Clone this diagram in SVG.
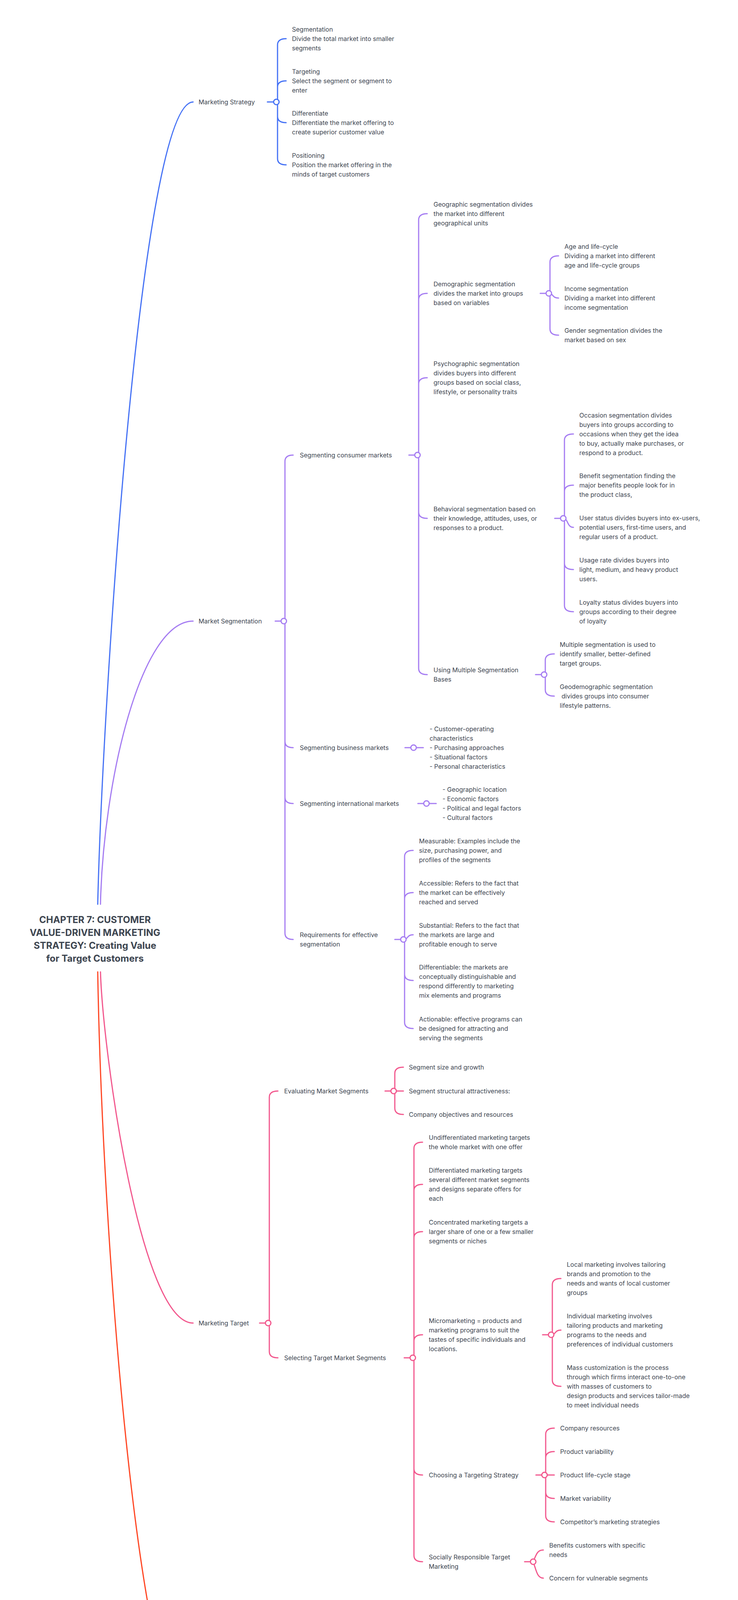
<svg xmlns="http://www.w3.org/2000/svg" width="1888" height="4803" viewBox="0 0 1888 4803">
<style>
text{font-family:Inter,"Liberation Sans",sans-serif;font-size:16px;fill:#3d4550}
.t{font-size:24px;font-weight:700;text-anchor:middle}
path{fill:none;stroke-width:3;stroke-linecap:round}
circle{fill:#fff;stroke-width:3}
.b{stroke:#4471f5}.p{stroke:#a57cf2}.k{stroke:#f2578d}.r{stroke:#ff4421}
</style>
<rect width="1888" height="4803" fill="#fff"/>
<g id="connectors">
<path class="b" d="M250,2315 C262,1800 360,261 494,261"/>
<path class="p" d="M257,2315 C264,2000 360,1590 494,1590"/>
<path class="k" d="M257,2488 C264,2700 360,3387 494,3387"/>
<path class="r" d="M250,2488 C262,3200 360,4422 494,4422"/>
<!-- Marketing Strategy -->
<path class="b" d="M684,261 H700 M710,261 L710,115 Q710,99 732,99 M710,261 L710,223 Q710,207 732,207 M710,261 L710,298 Q710,314 732,314 M710,261 L710,406 Q710,422 732,422"/>
<!-- Market Segmentation -->
<path class="p" d="M704,1590 H719 M729,1590 L729,1181 Q729,1165 750,1165 M729,1590 L729,1898 Q729,1914 750,1914 M729,1590 L729,2041 Q729,2057 750,2057 M729,1590 L729,2389 Q729,2405 750,2405"/>
<path class="p" d="M1046,1165 H1061 M1071,1165 L1071,563 Q1071,547 1093,547 M1071,1165 L1071,767 Q1071,751 1093,751 M1071,1165 L1071,983 Q1071,967 1093,967 M1071,1165 L1071,1311 Q1071,1327 1093,1327 M1071,1165 L1071,1711 Q1071,1727 1093,1727"/>
<path class="p" d="M1382,751 H1397 M1407,751 L1407,671 Q1407,655 1429,655 M1404,751 C1416,751 1412,763 1429,763 M1407,751 L1407,842 Q1407,858 1429,858"/>
<path class="p" d="M1419,1327 H1434 M1444,1327 L1444,1127 Q1444,1111 1467,1111 M1444,1327 L1444,1258 Q1444,1242 1467,1242 M1441,1327 C1454,1327 1450,1350 1467,1350 M1444,1327 L1444,1442 Q1444,1458 1467,1458 M1444,1327 L1444,1550 Q1444,1566 1467,1566"/>
<path class="p" d="M1370,1727 H1385 M1395,1727 L1395,1690 Q1395,1674 1418,1674 M1395,1727 L1395,1766 Q1395,1782 1418,1782"/>
<path class="p" d="M1036,1914 H1051 M1065,1914 H1083"/>
<path class="p" d="M1069,2057 H1084 M1098,2057 H1116"/>
<path class="p" d="M1010,2405 H1025 M1035,2405 L1035,2193 Q1035,2177 1057,2177 M1035,2405 L1035,2301 Q1035,2285 1057,2285 M1032,2405 C1045,2405 1040,2393 1057,2393 M1035,2405 L1035,2494 Q1035,2510 1057,2510 M1035,2405 L1035,2617 Q1035,2633 1057,2633"/>
<!-- Marketing Target -->
<path class="k" d="M664,3387 H679 M689,3387 L689,2809 Q689,2793 711,2793 M689,3387 L689,3460 Q689,3476 711,3476"/>
<path class="k" d="M985,2793 H1000 M1014,2793 H1032 M1010,2793 L1010,2748 Q1010,2732 1032,2732 M1010,2793 L1010,2837 Q1010,2853 1032,2853"/>
<path class="k" d="M1034,3476 H1049 M1059,3476 L1059,2940 Q1059,2924 1081,2924 M1059,3476 L1059,3048 Q1059,3032 1081,3032 M1059,3476 L1059,3169 Q1059,3153 1081,3153 M1059,3476 L1059,3433 Q1059,3417 1081,3417 M1059,3476 L1059,3760 Q1059,3776 1081,3776 M1059,3476 L1059,3982 Q1059,3998 1081,3998"/>
<path class="k" d="M1388,3417 H1403 M1413,3417 L1413,3289 Q1413,3273 1435,3273 M1410,3417 C1423,3417 1418,3405 1435,3405 M1413,3417 L1413,3533 Q1413,3549 1435,3549"/>
<path class="k" d="M1371,3776 H1386 M1400,3776 H1418 M1396,3776 L1396,3672 Q1396,3656 1418,3656 M1396,3776 L1396,3732 Q1396,3716 1418,3716 M1396,3776 L1396,3820 Q1396,3836 1418,3836 M1396,3776 L1396,3880 Q1396,3896 1418,3896"/>
<path class="k" d="M1342,3998 H1357 M1364,3998 C1372,3980 1374,3968 1390,3968 M1364,3998 C1372,4020 1374,4040 1390,4040"/>
<!-- Differentiation and Positioning -->
<path class="r" d="M781,4422 H796 M806,4422 L806,4156 Q806,4140 828,4140 M806,4422 L806,4276 Q806,4260 828,4260 M806,4422 L806,4525 Q806,4541 828,4541"/>
<path class="r" d="M1117,4541 H1132 M1142,4541 L1142,4408 Q1142,4392 1165,4392 M1142,4541 L1142,4515 Q1142,4499 1165,4499 M1142,4541 L1142,4580 Q1142,4596 1165,4596 M1142,4541 L1142,4688 Q1142,4704 1165,4704"/>
<path class="r" d="M1483,4392 H1498 M1512,4392 H1530"/>
<path class="r" d="M1442,4596 H1457 M1471,4596 H1489"/>
<path class="r" d="M1403,4704 H1418 M1432,4704 H1450"/>
</g>
<g id="circles">
<circle class="b" cx="707" cy="261" r="7"/>
<circle class="p" cx="726" cy="1590" r="7"/>
<circle class="p" cx="1068" cy="1165" r="7"/>
<circle class="p" cx="1404" cy="751" r="7"/>
<circle class="p" cx="1441" cy="1327" r="7"/>
<circle class="p" cx="1392" cy="1727" r="7"/>
<circle class="p" cx="1058" cy="1914" r="7"/>
<circle class="p" cx="1091" cy="2057" r="7"/>
<circle class="p" cx="1032" cy="2405" r="7"/>
<circle class="k" cx="686" cy="3387" r="7"/>
<circle class="k" cx="1007" cy="2793" r="7"/>
<circle class="k" cx="1056" cy="3476" r="7"/>
<circle class="k" cx="1410" cy="3417" r="7"/>
<circle class="k" cx="1393" cy="3776" r="7"/>
<circle class="k" cx="1364" cy="3998" r="7"/>
<circle class="r" cx="803" cy="4422" r="7"/>
<circle class="r" cx="1139" cy="4541" r="7"/>
<circle class="r" cx="1505" cy="4392" r="7"/>
<circle class="r" cx="1464" cy="4596" r="7"/>
<circle class="r" cx="1425" cy="4704" r="7"/>
</g>
<g id="root"><text class="t" x="243" y="2363"><tspan x="243">CHAPTER 7: CUSTOMER</tspan><tspan x="243" dy="33">VALUE-DRIVEN MARKETING</tspan><tspan x="243" dy="33">STRATEGY: Creating Value</tspan><tspan x="243" dy="33">for Target Customers</tspan></text></g>
<g id="n-ms"><text x="508" y="267">Marketing Strategy</text></g>
<g id="n-seg"><text x="747" y="81"><tspan x="747">Segmentation</tspan><tspan x="747" dy="24">Divide the total market into smaller</tspan><tspan x="747" dy="24">segments</tspan></text></g>
<g id="n-tar"><text x="747" y="189"><tspan x="747">Targeting</tspan><tspan x="747" dy="24">Select the segment or segment to</tspan><tspan x="747" dy="24">enter</tspan></text></g>
<g id="n-dif"><text x="747" y="296"><tspan x="747">Differentiate</tspan><tspan x="747" dy="24">Differentiate the market offering to</tspan><tspan x="747" dy="24">create superior customer value</tspan></text></g>
<g id="n-pos"><text x="747" y="404"><tspan x="747">Positioning</tspan><tspan x="747" dy="24">Position the market offering in the</tspan><tspan x="747" dy="24">minds of target customers</tspan></text></g>
<g id="n-mseg"><text x="508" y="1596">Market Segmentation</text></g>
<g id="n-cons"><text x="767" y="1171">Segmenting consumer markets</text></g>
<g id="n-geo"><text x="1109" y="529"><tspan x="1109">Geographic segmentation divides</tspan><tspan x="1109" dy="24">the market into different</tspan><tspan x="1109" dy="24">geographical units</tspan></text></g>
<g id="n-demo"><text x="1109" y="733"><tspan x="1109">Demographic segmentation</tspan><tspan x="1109" dy="24">divides the market into groups</tspan><tspan x="1109" dy="24">based on variables</tspan></text></g>
<g id="n-age"><text x="1444" y="637"><tspan x="1444">Age and life-cycle</tspan><tspan x="1444" dy="24">Dividing a market into different</tspan><tspan x="1444" dy="24">age and life-cycle groups</tspan></text></g>
<g id="n-inc"><text x="1444" y="745"><tspan x="1444">Income segmentation</tspan><tspan x="1444" dy="24">Dividing a market into different</tspan><tspan x="1444" dy="24">income segmentation</tspan></text></g>
<g id="n-gen"><text x="1444" y="852"><tspan x="1444">Gender segmentation divides the</tspan><tspan x="1444" dy="24">market based on sex</tspan></text></g>
<g id="n-psy"><text x="1109" y="937"><tspan x="1109">Psychographic segmentation</tspan><tspan x="1109" dy="24">divides buyers into different</tspan><tspan x="1109" dy="24">groups based on social class,</tspan><tspan x="1109" dy="24">lifestyle, or personality traits</tspan></text></g>
<g id="n-beh"><text x="1109" y="1309"><tspan x="1109">Behavioral segmentation based on</tspan><tspan x="1109" dy="24">their knowledge, attitudes, uses, or</tspan><tspan x="1109" dy="24">responses to a product.</tspan></text></g>
<g id="n-occ"><text x="1482" y="1069"><tspan x="1482">Occasion segmentation divides</tspan><tspan x="1482" dy="24">buyers into groups according to</tspan><tspan x="1482" dy="24">occasions when they get the idea</tspan><tspan x="1482" dy="24">to buy, actually make purchases, or</tspan><tspan x="1482" dy="24">respond to a product.</tspan></text></g>
<g id="n-ben"><text x="1482" y="1224"><tspan x="1482">Benefit segmentation  finding the</tspan><tspan x="1482" dy="24">major benefits people look for in</tspan><tspan x="1482" dy="24">the product class,</tspan></text></g>
<g id="n-usr"><text x="1482" y="1332"><tspan x="1482">User status divides buyers into ex-users,</tspan><tspan x="1482" dy="24">potential users, first-time users, and</tspan><tspan x="1482" dy="24">regular users of a product.</tspan></text></g>
<g id="n-usg"><text x="1482" y="1440"><tspan x="1482">Usage rate divides buyers into</tspan><tspan x="1482" dy="24">light, medium, and heavy product</tspan><tspan x="1482" dy="24">users.</tspan></text></g>
<g id="n-loy"><text x="1482" y="1548"><tspan x="1482">Loyalty status divides buyers into</tspan><tspan x="1482" dy="24">groups according to their degree</tspan><tspan x="1482" dy="24">of loyalty</tspan></text></g>
<g id="n-mul"><text x="1109" y="1721"><tspan x="1109">Using Multiple Segmentation</tspan><tspan x="1109" dy="24">Bases</tspan></text></g>
<g id="n-mul1"><text x="1432" y="1656"><tspan x="1432">Multiple segmentation is used to</tspan><tspan x="1432" dy="24">identify smaller, better-defined</tspan><tspan x="1432" dy="24">target groups.</tspan></text></g>
<g id="n-mul2"><text x="1432" y="1764"><tspan x="1432">Geodemographic segmentation</tspan><tspan x="1432" dy="24"> divides groups into consumer</tspan><tspan x="1432" dy="24">lifestyle patterns.</tspan></text></g>
<g id="n-bus"><text x="767" y="1920">Segmenting business markets</text></g>
<g id="n-bus1"><text x="1099" y="1872"><tspan x="1099">- Customer-operating</tspan><tspan x="1099" dy="24">characteristics</tspan><tspan x="1099" dy="24">- Purchasing approaches</tspan><tspan x="1099" dy="24">- Situational factors</tspan><tspan x="1099" dy="24">- Personal characteristics</tspan></text></g>
<g id="n-int"><text x="767" y="2063">Segmenting international markets</text></g>
<g id="n-int1"><text x="1132" y="2027"><tspan x="1132">- Geographic location</tspan><tspan x="1132" dy="24">- Economic factors</tspan><tspan x="1132" dy="24">- Political and legal factors</tspan><tspan x="1132" dy="24">- Cultural factors</tspan></text></g>
<g id="n-req"><text x="767" y="2399"><tspan x="767">Requirements for effective</tspan><tspan x="767" dy="24">segmentation</tspan></text></g>
<g id="n-r1"><text x="1072" y="2159"><tspan x="1072">Measurable: Examples include the</tspan><tspan x="1072" dy="24">size, purchasing power, and</tspan><tspan x="1072" dy="24">profiles of the segments</tspan></text></g>
<g id="n-r2"><text x="1072" y="2267"><tspan x="1072">Accessible: Refers to the fact that</tspan><tspan x="1072" dy="24">the market can be effectively</tspan><tspan x="1072" dy="24">reached and served</tspan></text></g>
<g id="n-r3"><text x="1072" y="2375"><tspan x="1072">Substantial: Refers to the fact that</tspan><tspan x="1072" dy="24">the markets are large and</tspan><tspan x="1072" dy="24">profitable enough to serve</tspan></text></g>
<g id="n-r4"><text x="1072" y="2482"><tspan x="1072">Differentiable: the markets are</tspan><tspan x="1072" dy="24">conceptually distinguishable and</tspan><tspan x="1072" dy="24">respond differently to marketing</tspan><tspan x="1072" dy="24">mix elements and programs</tspan></text></g>
<g id="n-r5"><text x="1072" y="2615"><tspan x="1072">Actionable: effective programs can</tspan><tspan x="1072" dy="24">be designed for attracting and</tspan><tspan x="1072" dy="24">serving the segments</tspan></text></g>
<g id="n-mt"><text x="508" y="3393">Marketing Target</text></g>
<g id="n-eval"><text x="727" y="2799">Evaluating Market Segments</text></g>
<g id="n-e1"><text x="1046" y="2738">Segment size and growth</text></g>
<g id="n-e2"><text x="1046" y="2799">Segment structural attractiveness:</text></g>
<g id="n-e3"><text x="1046" y="2859">Company objectives and resources</text></g>
<g id="n-sel"><text x="727" y="3482">Selecting Target Market Segments</text></g>
<g id="n-s1"><text x="1097" y="2918"><tspan x="1097">Undifferentiated marketing targets</tspan><tspan x="1097" dy="24">the whole market with one offer</tspan></text></g>
<g id="n-s2"><text x="1097" y="3002"><tspan x="1097">Differentiated marketing targets</tspan><tspan x="1097" dy="24">several different market segments</tspan><tspan x="1097" dy="24">and designs separate offers for</tspan><tspan x="1097" dy="24">each</tspan></text></g>
<g id="n-s3"><text x="1097" y="3135"><tspan x="1097">Concentrated marketing targets a</tspan><tspan x="1097" dy="24">larger share of one or a few smaller</tspan><tspan x="1097" dy="24">segments or niches</tspan></text></g>
<g id="n-micro"><text x="1097" y="3387"><tspan x="1097">Micromarketing = products and</tspan><tspan x="1097" dy="24">marketing programs to suit the</tspan><tspan x="1097" dy="24">tastes of specific individuals and</tspan><tspan x="1097" dy="24">locations.</tspan></text></g>
<g id="n-m1"><text x="1450" y="3243"><tspan x="1450">Local marketing involves tailoring</tspan><tspan x="1450" dy="24">brands and promotion to the</tspan><tspan x="1450" dy="24">needs and wants of local customer</tspan><tspan x="1450" dy="24">groups</tspan></text></g>
<g id="n-m2"><text x="1450" y="3375"><tspan x="1450">Individual marketing involves</tspan><tspan x="1450" dy="24">tailoring products and marketing</tspan><tspan x="1450" dy="24">programs to the needs and</tspan><tspan x="1450" dy="24">preferences of individual customers</tspan></text></g>
<g id="n-m3"><text x="1450" y="3507"><tspan x="1450">Mass customization is the process</tspan><tspan x="1450" dy="24">through which firms interact one-to-one</tspan><tspan x="1450" dy="24">with masses of customers to</tspan><tspan x="1450" dy="24">design products and services tailor-made</tspan><tspan x="1450" dy="24">to meet individual needs</tspan></text></g>
<g id="n-cts"><text x="1097" y="3782">Choosing a Targeting Strategy</text></g>
<g id="n-c1"><text x="1433" y="3662">Company resources</text></g>
<g id="n-c2"><text x="1433" y="3722">Product variability</text></g>
<g id="n-c3"><text x="1433" y="3782">Product life-cycle stage</text></g>
<g id="n-c4"><text x="1433" y="3842">Market variability</text></g>
<g id="n-c5"><text x="1433" y="3902">Competitor’s marketing strategies</text></g>
<g id="n-soc"><text x="1097" y="3992"><tspan x="1097">Socially Responsible Target</tspan><tspan x="1097" dy="24">Marketing</tspan></text></g>
<g id="n-so1"><text x="1405" y="3962"><tspan x="1405">Benefits customers with specific</tspan><tspan x="1405" dy="24">needs</tspan></text></g>
<g id="n-so2"><text x="1405" y="4046">Concern for vulnerable segments</text></g>
<g id="n-dp"><text x="508" y="4428">Differentiation and Positioning</text></g>
<g id="n-d1"><text x="843" y="4122"><tspan x="843">Product position is the way the</tspan><tspan x="843" dy="24">product is defined by consumers</tspan><tspan x="843" dy="24">on important attributes</tspan></text></g>
<g id="n-d2"><text x="843" y="4230"><tspan x="843">Positioning maps show consumer</tspan><tspan x="843" dy="24">perceptions of their brands versus</tspan><tspan x="843" dy="24">competing products on important</tspan><tspan x="843" dy="24">buying dimensions.</tspan></text></g>
<g id="n-cd"><text x="843" y="4535"><tspan x="843">Choosing a Differentiation and</tspan><tspan x="843" dy="24">Positioning Strategy</tspan></text></g>
<g id="n-id"><text x="1180" y="4362"><tspan x="1180">Identifying a set of possible</tspan><tspan x="1180" dy="24">competitive advantages to build a</tspan><tspan x="1180" dy="24">position by providing superior</tspan><tspan x="1180" dy="24">value</tspan></text></g>
<g id="n-ca"><text x="1545" y="4374"><tspan x="1545">Competitive advantage is the</tspan><tspan x="1545" dy="24">advantage over competitors</tspan><tspan x="1545" dy="24">gained</tspan></text></g>
<g id="n-cr"><text x="1180" y="4493"><tspan x="1180">Choosing the Right Competitive</tspan><tspan x="1180" dy="24">Advantages</tspan></text></g>
<g id="n-so"><text x="1180" y="4602">Selecting an Overall Strategy</text></g>
<g id="n-vp"><text x="1504" y="4578"><tspan x="1504">Value proposition is the full mix of</tspan><tspan x="1504" dy="24">benefits upon which a brand is</tspan><tspan x="1504" dy="24">positioned</tspan></text></g>
<g id="n-dev"><text x="1180" y="4698"><tspan x="1180">Developing a Positioning</tspan><tspan x="1180" dy="24">Statement</tspan></text></g>
<g id="n-ps"><text x="1465" y="4686"><tspan x="1465">Positioning statement states the</tspan><tspan x="1465" dy="24">product's membership in a</tspan><tspan x="1465" dy="24">category</tspan></text></g>
</svg>
